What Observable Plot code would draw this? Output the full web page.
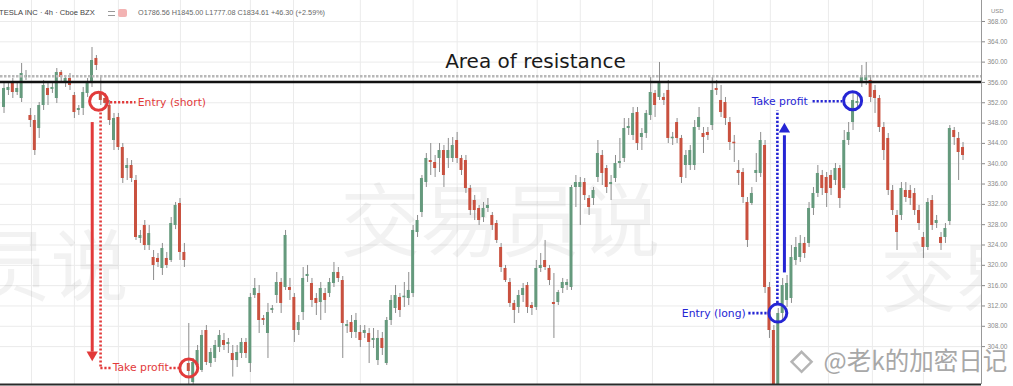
<!DOCTYPE html>
<html><head><meta charset="utf-8">
<script src="https://cdn.jsdelivr.net/npm/d3@7"></script>
<script src="https://cdn.jsdelivr.net/npm/@observablehq/plot@0.6"></script>
<style>
body{margin:0;background:#fff;}
#wrap{position:relative;width:1013px;height:386px;overflow:hidden;background:#fff;}
.hd{position:absolute;top:8px;font-family:"Liberation Sans",sans-serif;white-space:nowrap;line-height:10px;}
#sym{left:-1px;font-size:7.6px;color:#444;}
#ohlc{left:138px;font-size:7.25px;color:#666;}
#ic1{position:absolute;left:108px;top:11px;width:7px;height:3px;border-top:1px solid #999;border-bottom:1px solid #999;}
#ic2{position:absolute;left:118px;top:9px;width:9px;height:8px;background:#f3b3b3;border-radius:2px;}
#usd{position:absolute;left:991px;top:8px;font:6px "Liberation Sans",sans-serif;color:#888;}
</style></head><body>
<div id="wrap"><div id="chart"></div>
<div class="hd" id="sym"></div><div id="ic1"></div><div id="ic2"></div><div class="hd" id="ohlc"></div>
<div id="usd">USD</div></div>
<script>
// ---- candle data (4h) ----
const opens=[351.07,354.42,355.80,354.02,352.84,356.98,349.49,348.51,346.93,351.46,354.81,354.62,352.84,357.96,355.99,356.78,353.43,350.48,350.87,353.83,355.80,360.72,353.83,352.84,351.46,344.57,349.10,343.19,339.06,339.65,336.70,325.28,327.84,323.90,321.54,321.35,319.38,321.35,320.95,327.84,332.17,322.53,300.67,296.93,300.28,299.30,307.17,300.67,301.66,303.82,305.20,304.41,302.64,301.26,302.64,304.81,300.67,314.06,314.45,309.53,306.58,311.11,314.06,316.62,315.63,315.63,313.67,307.17,310.71,317.80,316.42,313.47,312.68,314.45,314.45,316.42,318.59,317.01,307.96,308.74,306.78,306.78,306.58,306.58,305.20,301.26,305.60,300.67,309.14,311.50,313.67,313.67,313.47,314.45,326.46,330.40,336.30,340.63,340.24,341.03,342.60,341.03,341.03,344.57,341.03,340.63,335.12,332.76,331.19,329.41,331.19,329.81,328.23,323.51,319.38,316.62,312.49,311.70,314.06,316.03,312.09,311.70,319.38,320.95,319.38,312.68,312.68,315.44,316.03,315.63,335.32,335.32,336.30,333.15,333.15,337.29,341.62,339.06,335.90,337.09,340.04,341.03,346.93,345.56,350.08,345.16,345.95,349.49,353.83,353.04,353.04,354.42,344.97,348.11,344.97,339.65,339.65,339.65,347.13,345.95,346.15,347.52,354.81,352.45,352.05,348.11,344.18,338.67,338.27,332.37,332.17,338.08,338.08,343.59,315.63,307.17,294.50,310.52,313.08,313.47,320.95,321.54,324.30,324.30,331.19,334.14,337.68,337.29,337.68,336.70,339.06,335.12,344.57,348.11,351.86,355.80,356.39,356.39,354.42,352.84,347.13,344.97,334.73,329.81,329.81,334.73,334.73,334.14,330.79,325.48,323.51,332.76,328.23,325.48,325.48,328.62,346.54,344.97,343.19];
const highs=[355.99,355.99,356.78,355.99,359.73,358.35,350.87,349.49,352.05,356.39,355.99,355.99,358.74,358.35,357.37,357.76,354.02,351.46,355.01,356.78,362.88,361.30,357.37,353.83,352.45,349.89,349.89,343.98,341.03,340.63,337.68,326.86,328.82,327.84,322.92,322.33,324.30,322.53,329.41,332.37,333.15,324.30,308.55,301.66,304.22,307.17,308.15,303.63,305.20,307.17,306.58,305.60,304.22,304.22,305.60,305.60,314.45,317.41,316.03,310.12,312.49,312.09,318.59,317.41,326.86,317.41,314.45,310.12,319.57,319.97,317.41,314.45,316.62,315.44,317.41,320.56,319.57,317.80,309.14,310.12,310.52,308.15,308.15,307.56,307.56,307.17,306.78,309.73,314.06,316.03,314.45,316.62,318.59,327.84,329.81,337.68,342.01,343.98,341.62,343.98,343.59,344.97,345.16,346.15,341.62,341.62,335.71,333.74,331.78,332.37,333.15,330.40,328.82,324.30,319.97,317.41,313.08,315.05,316.42,316.62,312.68,320.95,322.33,324.89,319.97,318.39,315.05,317.41,317.21,335.71,337.68,337.29,337.09,333.74,335.32,344.57,342.60,339.65,337.68,341.62,344.97,348.90,348.90,351.07,351.07,346.93,350.48,356.98,354.42,359.93,353.83,356.39,346.15,348.90,345.56,342.60,343.59,348.51,351.07,347.13,347.13,356.98,356.39,355.40,353.04,349.10,345.56,340.63,339.06,333.35,335.32,342.00,346.15,344.57,316.62,308.15,311.50,317.41,318.00,323.90,325.48,325.87,325.48,332.37,335.32,339.65,338.67,338.27,338.67,340.04,339.65,346.54,348.11,353.83,353.43,359.34,359.93,357.37,355.40,353.43,348.11,345.95,335.71,330.79,336.30,336.30,335.71,335.12,331.78,326.46,333.15,333.74,329.81,326.46,328.23,347.52,347.13,346.15,344.18];
const lows=[349.89,353.43,352.84,353.43,352.05,356.39,347.13,341.62,344.97,350.48,351.46,353.83,351.86,355.99,355.01,354.42,348.90,349.49,349.49,353.04,355.01,358.35,351.46,350.87,347.52,342.60,342.60,336.11,336.70,336.30,324.89,324.30,322.92,322.92,317.01,319.57,318.00,319.38,320.56,327.03,320.95,319.57,296.35,295.36,299.30,298.90,300.28,299.89,300.87,302.84,303.23,302.64,298.00,299.89,301.66,301.66,298.90,313.47,306.58,308.15,301.66,310.52,312.49,310.52,315.05,313.08,304.81,306.19,309.14,316.62,311.70,310.12,309.14,310.52,313.67,315.63,316.62,301.66,306.58,305.60,305.60,303.82,305.60,300.67,303.63,300.28,302.25,300.28,308.15,310.52,309.73,311.70,312.09,313.67,325.48,329.41,335.32,337.68,337.29,338.27,335.32,339.06,340.24,340.04,337.68,334.14,329.81,328.82,327.84,328.43,330.40,326.86,324.30,318.59,316.62,311.70,308.55,310.52,312.68,310.52,310.12,311.11,318.59,318.98,316.03,305.60,312.09,314.45,315.05,315.05,331.38,327.84,332.76,329.81,331.78,336.30,335.71,334.14,332.76,336.30,339.06,340.24,345.56,344.57,342.60,342.60,344.97,348.51,349.10,352.45,351.46,343.98,343.59,343.98,336.11,337.09,338.67,338.67,346.54,342.01,344.57,346.54,353.43,349.10,347.52,342.60,340.24,335.71,332.17,323.51,331.78,336.30,337.29,314.45,305.60,292.50,293.00,308.74,311.70,312.50,319.97,320.56,321.35,323.51,329.81,333.35,333.74,331.38,333.74,335.71,331.19,334.73,343.59,346.54,350.87,355.01,355.40,352.05,349.89,346.15,340.63,333.74,329.81,322.92,328.82,332.37,331.78,329.81,326.86,321.35,322.92,326.86,327.25,322.92,324.30,327.84,343.59,336.70,340.63];
const closes=[354.81,355.01,354.02,354.81,357.76,357.37,348.51,342.60,351.46,355.40,353.43,355.01,357.96,356.98,356.78,355.40,350.08,350.87,354.02,355.80,360.32,359.34,352.45,351.86,348.51,348.90,343.19,337.09,339.65,337.09,325.48,325.87,323.90,326.26,319.97,320.56,323.31,319.97,328.23,331.78,322.53,320.95,299.10,300.87,303.23,306.19,300.87,302.84,304.22,306.19,304.22,304.81,301.26,302.84,304.81,302.64,313.67,315.44,309.14,309.14,310.71,311.50,316.62,312.49,325.87,315.05,307.17,308.74,317.41,318.20,313.08,312.49,315.44,313.08,316.62,318.59,317.41,308.55,308.35,306.78,309.14,305.20,307.17,304.81,305.60,305.60,303.63,309.14,313.08,314.06,311.11,313.87,315.05,326.86,328.82,337.09,341.03,340.24,339.06,342.60,337.68,342.60,343.59,341.03,338.67,335.12,330.79,330.79,328.82,331.19,331.78,327.84,324.89,319.57,317.01,312.49,311.11,314.06,315.44,311.70,311.50,319.38,319.97,319.57,317.01,312.29,314.65,316.62,316.62,335.32,336.30,336.30,333.74,331.38,334.73,342.01,338.08,335.32,336.30,340.04,340.44,346.93,347.33,349.89,343.98,345.95,349.89,354.02,351.46,355.99,352.45,344.97,345.16,344.97,337.29,341.62,342.60,347.13,349.10,345.16,345.56,354.42,354.42,350.08,348.90,344.18,343.98,338.08,333.35,324.89,334.14,338.67,344.57,315.63,307.17,294.50,310.52,316.03,316.42,321.54,323.51,324.30,322.33,331.19,334.14,338.08,335.12,334.14,335.12,339.06,333.15,344.57,346.15,352.45,352.25,356.98,357.37,353.04,352.84,347.13,342.60,334.73,330.79,326.46,335.12,333.35,333.15,330.79,328.23,323.51,332.37,327.84,328.82,324.30,327.25,346.93,345.16,342.21,341.62];

// ---- axis, levels, grid, header ----
const yTicks=[304,308,312,316,320,324,328,332,336,340,344,348,352,356,360,364,368];
const dayBreaks=[6.25,16,26,40.1,56,65.8,81,93,103,121.2,131,147.4,161.3,174.2,187.4,197.4,209];
const resistanceLine=[356.1];
const resistanceZone=[357.2];
const xDomain=[-0.8,222.2];
const yDomain=[296.54,372.13];
const headerSymbol="TESLA INC · 4h · Cboe BZX";
const headerOHLC="O1786.56 H1845.00 L1777.08 C1834.61 +46.30 (+2.59%)";

// ---- annotations (data coordinates) ----
const RED="#e23a3a", BLUE="#2525d4";
const circles=[{i:21.5,p:352.3,color:RED},{i:42,p:299.8,color:RED},{i:175.9,p:310.6,color:BLUE},{i:192.9,p:352.4,color:BLUE}];
const labelsStart=[{i:30.4,p:352.1,text:"Entry (short)",color:RED},{i:24.7,p:299.8,text:"Take profit",color:RED}];
const labelsEnd=[{i:168.6,p:310.6,text:"Entry (long)",color:BLUE},{i:182.7,p:352.2,text:"Take profit",color:BLUE}];
const dottedH=[{i1:24.1,i2:29.9,p:352.1,color:RED},{i1:21.9,i2:24.3,p:299.8,color:RED},{i1:37.6,i2:39.8,p:299.8,color:RED},{i1:169.2,i2:173.6,p:310.6,color:BLUE},{i1:183.8,i2:190.5,p:352.3,color:BLUE}];
const dottedV=[{i:21.95,p1:350.1,p2:299.9,color:RED},{i:175.8,p1:312.6,p2:350.5,color:BLUE}];
const arrowShafts=[{i:20.05,p1:348.2,p2:303.0,color:RED},{i:177.4,p1:318.6,p2:345.6,color:BLUE}];
const arrowHeads=[{i:20.05,p:302.4,rot:180,color:RED},{i:177.4,p:346.8,rot:0,color:BLUE}];
const title=[{i:120.8,p:360.2,text:"Area of resistance"}];
const watermarkEnd=[{i:28.3,p:319.0,text:"交易员说",size:78}];
const watermarkMid=[{i:112.8,p:328.0,text:"交易员说",size:80}];
const watermarkStart=[{i:199.2,p:316.8,text:"交易",size:76}];
const signature=[{i:186.3,p:300.9,text:"@老k的加密日记"}];
const logo=[{i:181.3,p:301.0}];

const UP="#659a7d", DOWN="#c9513f", WICK="#8d8d8d";
const candles=opens.map((o,i)=>{const c=closes[i];let bl=Math.min(o,c),bh=Math.max(o,c);if(bh-bl<0.3){const m=(bl+bh)/2;bl=m-0.15;bh=m+0.15;}return {i,h:highs[i],l:lows[i],bl,bh,fill:c>=o?UP:DOWN};});

document.getElementById("sym").textContent=headerSymbol;
document.getElementById("ohlc").textContent=headerOHLC;

const wm={fill:"#000",fillOpacity:0.05,fontFamily:"Noto Sans CJK SC"};
const chart=Plot.plot({
  width:1013,height:386,marginLeft:0,marginRight:32,marginTop:0,marginBottom:2,
  style:{background:"#fff"},
  x:{domain:xDomain,axis:null},
  y:{domain:yDomain,axis:null},
  color:{type:"identity"},
  marks:[
    Plot.ruleY(yTicks,{stroke:"#ebebeb",strokeWidth:1}),
    Plot.ruleX(dayBreaks,{stroke:"#ebebeb",strokeWidth:1}),
    Plot.text(watermarkEnd,{x:"i",y:"p",text:"text",fontSize:"size",textAnchor:"end",...wm}),
    Plot.text(watermarkMid,{x:"i",y:"p",text:"text",fontSize:"size",textAnchor:"middle",...wm}),
    Plot.text(watermarkStart,{x:"i",y:"p",text:"text",fontSize:"size",textAnchor:"start",...wm}),
    Plot.ruleX(candles,{x:"i",y1:"l",y2:"h",stroke:WICK,strokeWidth:1}),
    Plot.rect(candles,{x1:d=>d.i-0.34,x2:d=>d.i+0.34,y1:"bl",y2:"bh",fill:"fill"}),
    Plot.ruleY(resistanceZone,{stroke:"#b8b8b8",strokeWidth:2.5,strokeDasharray:"2.5,1.5"}),
    Plot.ruleY(resistanceLine,{stroke:"#111",strokeWidth:2.5}),
    Plot.text(title,{x:"i",y:"p",text:"text",fontSize:20,fontFamily:"DejaVu Sans",fill:"#1a1a1a"}),
    Plot.link(dottedH,{x1:"i1",x2:"i2",y1:"p",y2:"p",stroke:"color",strokeWidth:2.6,strokeDasharray:"2.2,1.8"}),
    Plot.link(dottedV,{x1:"i",x2:"i",y1:"p1",y2:"p2",stroke:"color",strokeWidth:2.6,strokeDasharray:"2.2,1.8"}),
    Plot.link(arrowShafts,{x1:"i",x2:"i",y1:"p1",y2:"p2",stroke:"color",strokeWidth:3}),
    Plot.dot(arrowHeads,{x:"i",y:"p",symbol:"triangle",r:4.2,rotate:"rot",fill:"color",stroke:"none"}),
    Plot.dot(circles,{x:"i",y:"p",r:9,stroke:"color",strokeWidth:3,fill:"none"}),
    Plot.text(labelsStart,{x:"i",y:"p",text:"text",fill:"color",textAnchor:"start",fontSize:10.8,fontFamily:"DejaVu Sans"}),
    Plot.text(labelsEnd,{x:"i",y:"p",text:"text",fill:"color",textAnchor:"end",fontSize:10.8,fontFamily:"DejaVu Sans"}),
    Plot.dot(logo,{x:"i",y:"p",symbol:"diamond2",r:9,stroke:"#b5b5b5",strokeWidth:2.5,fill:"none"}),
    Plot.text(signature,{x:"i",y:"p",text:"text",textAnchor:"start",fontSize:24.5,fontFamily:"Noto Sans CJK SC",fill:"#a8a8a8",stroke:"#fff",strokeWidth:1.5,paintOrder:"stroke"}),
    Plot.ruleY([yDomain[0]],{stroke:"#2a2a2a",strokeWidth:2}),
    Plot.ruleX([xDomain[1]],{stroke:"#999",strokeWidth:1}),
    Plot.axisY(yTicks,{anchor:"right",tickSize:3,tickPadding:3,tickFormat:d=>d.toFixed(2),fontSize:6.5,fontFamily:"Liberation Sans",color:"#8a8a8a",label:null})
  ]
});
// clip watermark texts and candles to the plotting frame with nested svg viewports
const xs=d3.scaleLinear(xDomain,[0,981]), ys=d3.scaleLinear(yDomain,[384,0]);
const fw=xs(xDomain[1])-xs(xDomain[0]), fh=ys(yDomain[0])-ys(yDomain[1]);
const toClip=new Set();
chart.querySelectorAll("text").forEach(t=>{ if(/交易/.test(t.textContent)) toClip.add(t.closest("g")); });
chart.querySelectorAll("g").forEach(g=>{
  if(g.querySelectorAll(":scope > rect").length===opens.length) toClip.add(g);
  if(g.querySelectorAll(":scope > line").length===opens.length) toClip.add(g);
});
toClip.forEach(g=>{
  if(!g) return;
  const vp=document.createElementNS("http://www.w3.org/2000/svg","svg");
  vp.setAttribute("x",0);vp.setAttribute("y",0);vp.setAttribute("width",fw);vp.setAttribute("height",fh);
  vp.setAttribute("overflow","hidden");vp.style.overflow="hidden";
  g.parentNode.insertBefore(vp,g);vp.appendChild(g);
});
document.getElementById("chart").appendChild(chart);
</script>
</body></html>
